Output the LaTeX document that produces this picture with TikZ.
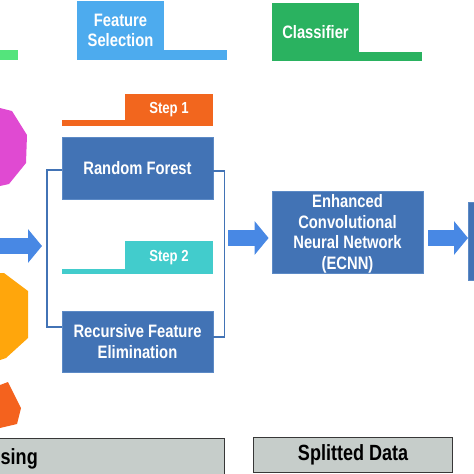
\documentclass[tikz,border=0pt]{standalone}
\usepackage{fontspec}
\setmainfont{Liberation Sans}[FakeStretch=0.82]
\usetikzlibrary{arrows.meta,calc}
\definecolor{fsblue}{RGB}{77,171,238}
\definecolor{clsgreen}{RGB}{42,178,96}
\definecolor{ltgreen}{RGB}{84,228,124}
\definecolor{steporange}{RGB}{242,102,30}
\definecolor{stepteal}{RGB}{66,204,204}
\definecolor{boxblue}{RGB}{66,115,181}
\definecolor{boxedge}{RGB}{92,138,198}
\definecolor{arrowblue}{RGB}{72,136,228}
\definecolor{pinkhex}{RGB}{224,74,210}
\definecolor{orangehex}{RGB}{255,166,12}
\definecolor{redhex}{RGB}{244,98,30}
\definecolor{grayfill}{RGB}{198,205,202}
\definecolor{grayedge}{RGB}{55,55,55}
\tikzset{
  lbl/.style={text=white, font=\bfseries\fontsize{18}{20.5}\selectfont, align=center, inner sep=0pt},
  tabbox/.style={lbl, minimum width=87pt},
  stepbox/.style={lbl, font=\bfseries\fontsize{16}{18}\selectfont, minimum width=88pt},
  procbox/.style={lbl, fill=boxblue, draw=boxedge, line width=0.8pt, minimum width=151pt},
  graybox/.style={fill=grayfill, draw=grayedge, line width=1.2pt, inner sep=0pt},
  bk/.style={draw=boxblue, line width=1.8pt},
  blockarrow/.style={draw=arrowblue, line width=16pt, -{Triangle[length=14pt,width=33pt]}}
}
\begin{document}
\begin{tikzpicture}[x=1pt,y=-1pt]
\useasboundingbox (0,0) rectangle (474,474);
\clip (0,0) rectangle (474,474);
% top tabs
\fill[ltgreen] (0,50) rectangle (18,60);
\node[tabbox, fill=fsblue, minimum height=59pt] (fs) at (120.5,30.5) {Feature\\Selection};
\fill[fsblue] (fs.south east) rectangle ++(63,-10);
\node[tabbox, fill=clsgreen, minimum height=58pt] (cls) at (315.5,32) {Classifier};
\fill[clsgreen] (cls.south east) rectangle ++(63,-9);
% step tabs
\node[stepbox, fill=steporange, minimum height=32pt] (s1) at (169,110) {Step 1};
\fill[steporange] (s1.south west) rectangle ++(-63,-6);
\node[stepbox, fill=stepteal, minimum height=33pt] (s2) at (169,257.5) {Step 2};
\fill[stepteal] (s2.south west) rectangle ++(-63,-5);
% process boxes
\node[procbox, minimum height=62pt] (rf) at (137.5,168) {Random Forest};
\node[procbox, minimum height=61pt] (rfe) at (137.5,341.5) {Recursive Feature\\Elimination};
\node[procbox, minimum height=82pt] (ecnn) at (347.5,232) {};
\node[lbl] (ecnnt) at (347.5,234) {Enhanced\\Convolutional\\Neural Network\\(ECNN)};
\node[procbox, minimum width=20pt, minimum height=78pt, anchor=north west] (nxt) at (468,202) {};
% brackets
\draw[bk] ([yshift=-2pt]rf.west) -- ++(-15,0) |- ([yshift=14.5pt]rfe.west);
\draw[bk] ([yshift=-3pt]rf.east) -- ++(11,0) |- ([yshift=4.5pt]rfe.east);
\coordinate (inL) at (0,246);
\coordinate (bl) at (47,246);
\coordinate (br) at (224,238);
% block arrows
\draw[blockarrow, shorten >=5pt] (inL) -- (bl);
\draw[blockarrow, shorten <=4pt, shorten >=3pt] (br) -- (ecnn.west |- br);
\draw[blockarrow, shorten <=5pt] (ecnn.east |- br) -- (nxt.west |- br);
% left shapes
\fill[pinkhex] (0,108) -- (12,111) -- (27,135) -- (26,163) -- (9,184) -- (0,186) -- cycle;
\fill[orangehex] (0,273) -- (4,273) -- (28,291) -- (28,338) -- (6,358) -- (0,360) -- cycle;
\fill[redhex] (0,385) -- (8,382) -- (21,408) -- (17,424) -- (0,428) -- cycle;
% bottom boxes
\node[graybox, minimum width=232pt, minimum height=50pt, anchor=north east] (pre) at (225,438) {};
\node[text=black, font=\bfseries\fontsize{22}{24}\selectfont, anchor=west, inner sep=0pt] (pret) at (0.5,459) {sing};
\node[graybox, minimum width=199pt, minimum height=35pt, anchor=north west, text=black, font=\bfseries\fontsize{22}{24}\selectfont] (split) at (253,437) {Splitted Data};
\end{tikzpicture}
\end{document}
